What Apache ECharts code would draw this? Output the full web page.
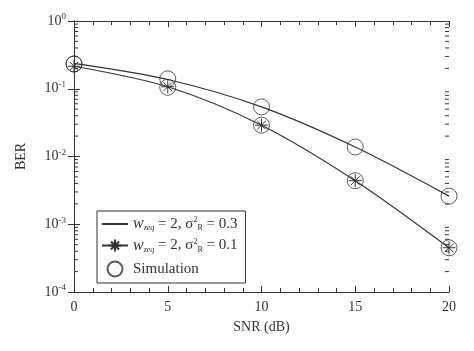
<!DOCTYPE html>
<html>
<head>
<meta charset="utf-8">
<script src="https://cdn.jsdelivr.net/npm/echarts@6/dist/echarts.min.js"></script>
<style>
  html, body { margin: 0; padding: 0; background: #fff; }
  #chart { width: 474px; height: 351px; }
</style>
</head>
<body>
<div id="chart"></div>
<script>
// SNR points (dB)
var snr = [0, 5, 10, 15, 20];
// analytical curves
var berR03 = [0.237, 0.137, 0.054, 0.0138, 0.0026];
var berR01 = [0.215, 0.107, 0.029, 0.0044, 0.00045];
// simulation circles
var simR03 = [0.232, 0.140, 0.054, 0.0138, 0.0026];
var simR01 = [0.232, 0.105, 0.029, 0.0044, 0.00045];
// log-axis decades
var decades = [1e-4, 1e-3, 1e-2, 1e-1, 1];

var font = 'Liberation Serif';
var ink = '#333';

// minor tick positions 2..9 in each decade
var minorTicks = [];
for (var d = 0; d < decades.length - 1; d++) {
  for (var k = 2; k <= 9; k++) minorTicks.push([decades[d] * k]);
}

function pairs(xs, ys) {
  return xs.map(function (x, i) { return [x, ys[i]]; });
}

var asterisk = 'path://M5,0L5,10M0,5L10,5M1.6,1.6L8.4,8.4M1.6,8.4L8.4,1.6';

var legendText = {
  a: '{i|w}{sub|zeq}{t| = 2, σ}{sup|2}{r|R}{t| = 0.3}',
  b: '{i|w}{sub|zeq}{t| = 2, σ}{sup|2}{r|R}{t| = 0.1}',
  Simulation: '{t|Simulation}'
};

var myChart = echarts.init(document.getElementById('chart'));
var option = {
  animation: false,
  grid: { left: 74, right: 25, top: 21, bottom: 59 },
  xAxis: [
    {
      type: 'value', min: 0, max: 20, interval: 5,
      name: 'SNR (dB)', nameLocation: 'middle', nameGap: 28,
      nameTextStyle: { fontFamily: font, fontSize: 14, color: ink },
      axisLine: { lineStyle: { color: ink } },
      axisTick: { inside: true, length: 6, lineStyle: { color: ink } },
      minorTick: { show: true, splitNumber: 5, length: 4, lineStyle: { color: ink } },
      axisLabel: { fontFamily: font, fontSize: 14, color: ink, margin: 8 },
      splitLine: { show: false }
    },
    {
      type: 'value', min: 0, max: 20, interval: 5, position: 'top',
      axisLine: { show: true, lineStyle: { color: ink } },
      axisTick: { inside: true, length: 6, lineStyle: { color: ink } },
      minorTick: { show: true, splitNumber: 5, length: 4, lineStyle: { color: ink } },
      axisLabel: { show: false },
      splitLine: { show: false }
    }
  ],
  yAxis: [
    {
      type: 'log', logBase: 10, min: 1e-4, max: 1,
      name: 'BER', nameLocation: 'middle', nameGap: 46,
      nameTextStyle: { fontFamily: font, fontSize: 14, color: ink },
      axisLine: { show: true, lineStyle: { color: ink } },
      axisTick: { inside: true, length: 6, lineStyle: { color: ink } },
      axisLabel: {
        margin: 8,
        formatter: function (v) {
          return '{b|10}{s|' + Math.round(Math.log10(v)) + '}';
        },
        rich: {
          b: { fontFamily: font, fontSize: 14, color: ink },
          s: { fontFamily: font, fontSize: 9, color: ink, verticalAlign: 'top', padding: [0, 0, 8, 0] }
        }
      },
      splitLine: { show: false }
    },
    {
      type: 'log', logBase: 10, min: 1e-4, max: 1, position: 'right',
      axisLine: { show: true, lineStyle: { color: ink } },
      axisTick: { inside: true, length: 6, lineStyle: { color: ink } },
      axisLabel: { show: false },
      splitLine: { show: false }
    }
  ],
  legend: {
    left: 97, top: 211,
    orient: 'vertical',
    itemWidth: 26, itemHeight: 15, itemGap: 5,
    padding: [5, 8, 4, 4],
    borderColor: ink, borderWidth: 1, borderRadius: 0,
    backgroundColor: '#fff',
    data: [
      { name: 'a', itemStyle: { opacity: 0 } },
      'b',
      'Simulation'
    ],
    formatter: function (name) { return legendText[name]; },
    textStyle: {
      rich: {
        t: { fontFamily: font, fontSize: 15, color: ink },
        i: { fontFamily: font, fontSize: 16, fontStyle: 'italic', color: ink },
        sub: { fontFamily: font, fontSize: 8, fontStyle: 'italic', color: ink, verticalAlign: 'bottom', padding: [6, 0, 0, 0] },
        r: { fontFamily: font, fontSize: 8, color: ink, verticalAlign: 'bottom', padding: [6, 0, 0, 0] },
        sup: { fontFamily: font, fontSize: 8, color: ink, verticalAlign: 'top', padding: [0, 0, 6, 0] }
      }
    }
  },
  series: [
    {
      name: 'a', type: 'line', data: pairs(snr, berR03),
      smooth: 0.3, symbol: 'none',
      lineStyle: { color: ink, width: 1.2 },
      itemStyle: { color: ink }
    },
    {
      name: 'b', type: 'line', data: pairs(snr, berR01),
      smooth: 0.3, symbol: asterisk, symbolSize: 13,
      lineStyle: { color: ink, width: 1.2 },
      itemStyle: { color: 'none', borderColor: ink, borderWidth: 1 }
    },
    {
      name: 'Simulation', type: 'scatter',
      data: pairs(snr, simR03).concat(pairs(snr, simR01)),
      symbol: 'circle', symbolSize: 16,
      itemStyle: { color: 'none', borderColor: ink, borderWidth: 1 },
      z: 3
    },
    {
      name: 'minor', type: 'custom', silent: true, data: minorTicks,
      renderItem: function (params, api) {
        var l = api.coord([0, api.value(0)]);
        var r = api.coord([20, api.value(0)]);
        return {
          type: 'group',
          children: [
            { type: 'line', shape: { x1: l[0], y1: l[1], x2: l[0] + 4, y2: l[1] }, style: { stroke: ink, lineWidth: 1 } },
            { type: 'line', shape: { x1: r[0], y1: r[1], x2: r[0] - 4, y2: r[1] }, style: { stroke: ink, lineWidth: 1 } }
          ]
        };
      },
      encode: { y: 0 },
      clip: false
    }
  ]
};
myChart.setOption(option);
</script>
</body>
</html>
